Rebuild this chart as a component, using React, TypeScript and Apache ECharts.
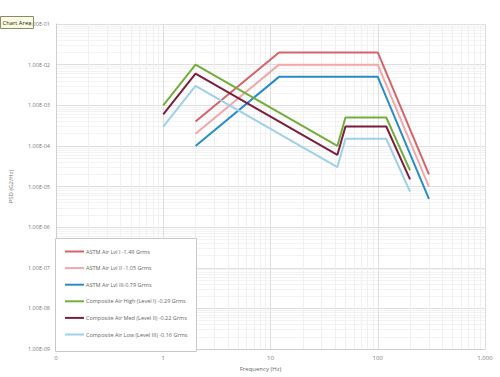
import React, { useEffect, useRef } from "react";
import * as echarts from "echarts";

const astmFreq = [2, 12, 100, 300];
const astmLvl1 = [4e-4, 2e-2, 2e-2, 2e-5];
const astmLvl2 = [2e-4, 1e-2, 1e-2, 1e-5];
const astmLvl3 = [1e-4, 5e-3, 5e-3, 5e-6];

const compFreq = [1, 2, 42, 50, 120, 200];
const compHigh = [1e-3, 1e-2, 1e-4, 5e-4, 5e-4, 2.5e-5];
const compMed = [6e-4, 6e-3, 6e-5, 3e-4, 3e-4, 1.5e-5];
const compLow = [3e-4, 3e-3, 3e-5, 1.5e-4, 1.5e-4, 7.5e-6];

const seriesNames = [
  "ASTM Air Lvl I -1.49 Grms",
  "ASTM Air Lvl II -1.05 Grms",
  "ASTM Air Lvl III-0.79 Grms",
  "Composite Air High (Level I) -0.29 Grms",
  "Composite Air Med (Level II) -0.22 Grms",
  "Composite Air Low (Level III) -0.16 Grms",
];
const seriesColors = ["#d6626b", "#f2a7aa", "#2a8cc9", "#74ad3c", "#7a1f3d", "#9fd0ea"];
const seriesFreqs = [astmFreq, astmFreq, astmFreq, compFreq, compFreq, compFreq];
const seriesValues = [astmLvl1, astmLvl2, astmLvl3, compHigh, compMed, compLow];

const FONT = "'Open Sans', sans-serif";

export default function App() {
  const ref = useRef<HTMLDivElement>(null);
  useEffect(() => {
    if (!ref.current) return;
    const chart = echarts.init(ref.current, null, { renderer: "svg" });
    const series = seriesNames.map((name, i) => ({
      name,
      type: "line",
      showSymbol: false,
      symbol: "none",
      lineStyle: { width: 2, color: seriesColors[i] },
      itemStyle: { color: seriesColors[i] },
      data: seriesFreqs[i].map((f, j) => [f, seriesValues[i][j]]),
      z: 3,
    }));
    chart.setOption({
      animation: false,
      backgroundColor: "#ffffff",
      grid: { left: 52, right: 15, top: 24, bottom: 25, containLabel: false },
      xAxis: {
        type: "log",
        logBase: 10,
        min: 0.1,
        max: 1000,
        name: "Frequency (Hz)",
        nameLocation: "middle",
        nameGap: 16,
        nameTextStyle: { fontSize: 6, color: "#666", fontFamily: FONT, padding: [0, 20, 0, 0] },
        axisLine: { show: true, lineStyle: { color: "#cfcfcf", width: 1 } },
        axisTick: { show: false },
        axisLabel: {
          fontSize: 6,
          color: "#777",
          fontFamily: FONT,
          margin: 6,
          formatter: (v: number) => (v < 1 ? "0" : Math.round(v).toLocaleString("en-US")),
        },
        splitLine: { show: true, lineStyle: { color: "#dedede", width: 1 } },
        minorTick: { show: false, splitNumber: 9 },
        minorSplitLine: { show: true, lineStyle: { color: "#f0f0f0", width: 1 } },
      },
      yAxis: {
        type: "log",
        logBase: 10,
        min: 1e-9,
        max: 1e-1,
        name: "PSD (G2/Hz)",
        nameLocation: "middle",
        nameGap: 42,
        nameTextStyle: { fontSize: 6, color: "#777", fontFamily: FONT },
        axisLine: { show: true, lineStyle: { color: "#cfcfcf", width: 1 } },
        axisTick: { show: false },
        axisLabel: {
          fontSize: 5.5,
          color: "#777",
          fontFamily: FONT,
          margin: 6,
          formatter: (v: number) => {
            const e = Math.round(Math.log10(v));
            const s = Math.abs(e) < 10 ? "0" + Math.abs(e) : String(Math.abs(e));
            return "1.00E" + (e < 0 ? "-" : "+") + s;
          },
        },
        splitLine: { show: true, lineStyle: { color: "#dedede", width: 1 } },
        minorTick: { show: false, splitNumber: 9 },
        minorSplitLine: { show: true, lineStyle: { color: "#f3f3f3", width: 1 } },
      },
      legend: {
        orient: "vertical",
        left: 65,
        top: 248,
        icon: "rect",
        itemWidth: 19,
        itemHeight: 2,
        itemGap: 9.6,
        padding: 0,
        textStyle: { fontSize: 5.5, color: "#666", fontFamily: FONT, lineHeight: 7, padding: [0, 0, 0, -3] },
        data: seriesNames,
      },
      graphic: [
        {
          type: "rect",
          left: 55,
          top: 238,
          shape: { width: 141, height: 113 },
          style: { fill: "#ffffff", stroke: "#c8c8c8", lineWidth: 1 },
          z: 1,
          zlevel: 0,
        },
        {
          type: "group",
          left: 0,
          top: 16,
          z: 100,
          children: [
            {
              type: "rect",
              shape: { x: 0, y: 0, width: 33, height: 12 },
              style: { fill: "#fbfbe0", stroke: "#8a8a70", lineWidth: 1 },
            },
            {
              type: "text",
              x: 2,
              y: 3,
              style: { text: "Chart Area", fontSize: 5.8, fill: "#222", fontFamily: FONT },
            },
          ],
        },
      ],
      series,
    });
    return () => chart.dispose();
  }, []);
  return <div ref={ref} style={{ width: 500, height: 377, position: "absolute", left: 0, top: 0 }} />;
}
